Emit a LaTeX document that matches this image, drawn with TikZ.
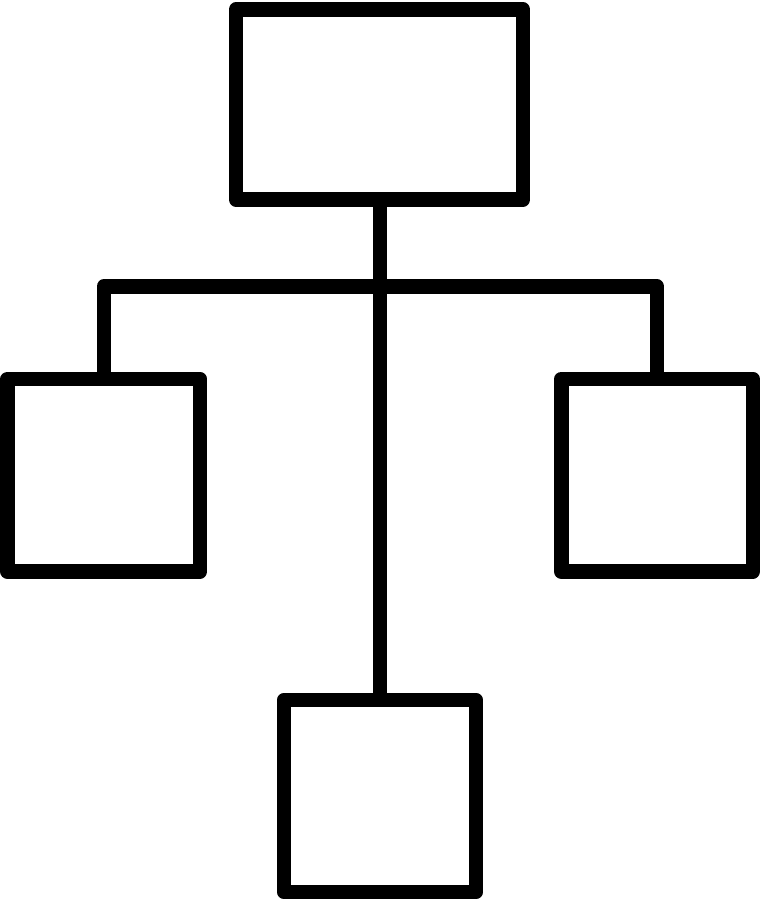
\documentclass[tikz,border=0pt]{standalone}
\begin{document}
\begin{tikzpicture}[x=1pt,y=-1pt,
  box/.style={draw=black,line width=14.5pt,line join=round,rectangle,inner sep=0pt,outer sep=0pt,fill=white},
  link/.style={draw=black,line width=14.5pt,line join=round}]
\fill[white] (0,0) rectangle (761,900);
\useasboundingbox (0,0) rectangle (761,900);
\node[box,minimum width=287pt,minimum height=190pt] (top) at (379.5,104.5) {};
\node[box,minimum width=192.5pt,minimum height=192.5pt] (left) at (103.75,475.25) {};
\node[box,minimum width=191.5pt,minimum height=192.5pt] (right) at (657,475.25) {};
\node[box,minimum width=192pt,minimum height=192pt] (bottom) at (380,796) {};
\coordinate (hub) at (380,286.5);
\draw[link] (top.south -| hub) -- (bottom.north -| hub);
\draw[link] (left.north) |- (hub) -| (right.north);
\end{tikzpicture}
\end{document}
